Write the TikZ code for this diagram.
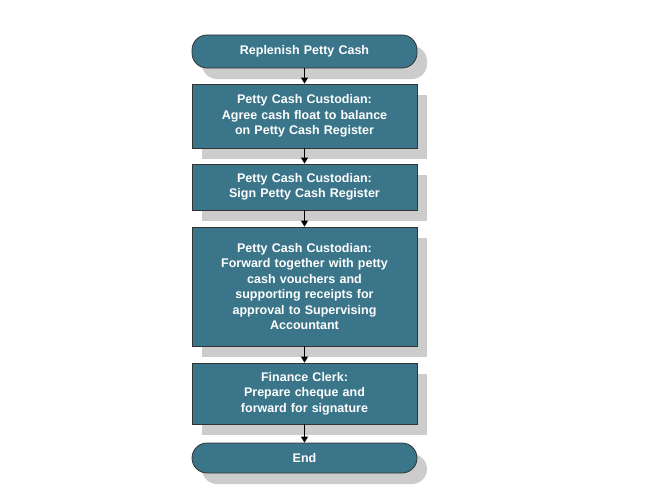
\documentclass[tikz,border=0pt]{standalone}
\usepackage{fontspec}
\setmainfont{Liberation Sans}
\usetikzlibrary{arrows.meta,shadows}
\definecolor{box}{HTML}{3A7589}
\definecolor{shad}{HTML}{CCCCCC}
\begin{document}
\begin{tikzpicture}[x=1pt,y=-1pt,
  base/.style={fill=box,draw=black!80,line width=0.8pt,text=white,
    font=\fontsize{12.5}{15.5}\selectfont\bfseries,align=center,
    minimum width=225pt,text width=215pt,inner sep=0pt,
    general shadow={fill=shad,shadow xshift=10pt,shadow yshift=-11pt}},
  term/.style={base,rounded corners=15pt},
  proc/.style={base},
  arr/.style={-{Triangle[length=6pt,width=7pt]},line width=0.8pt}]
\useasboundingbox (0,0) rectangle (660,495);
\fill[white] (0,0) rectangle (660,495);
\node[term,minimum height=33pt] (s) at (304.5,51.5) {Replenish Petty Cash};
\node[proc,minimum height=64pt] (b1) at (304.5,116) {Petty Cash Custodian:\\Agree cash float to balance\\on Petty Cash Register};
\node[proc,minimum height=46pt] (b2) at (304.5,187) {Petty Cash Custodian:\\Sign Petty Cash Register};
\node[proc,minimum height=119pt] (b3) at (304.5,286.5) {Petty Cash Custodian:\\Forward together with petty\\cash vouchers and\\supporting receipts for\\approval to Supervising\\Accountant};
\node[proc,minimum height=61pt] (b4) at (304.5,393.5) {Finance Clerk:\\Prepare cheque and\\forward for signature};
\node[term,minimum height=30pt] (e) at (304.5,458) {End};
\draw[arr] (s) -- (b1);
\draw[arr] (b1) -- (b2);
\draw[arr] (b2) -- (b3);
\draw[arr] (b3) -- (b4);
\draw[arr] (b4) -- (e);
\end{tikzpicture}
\end{document}
